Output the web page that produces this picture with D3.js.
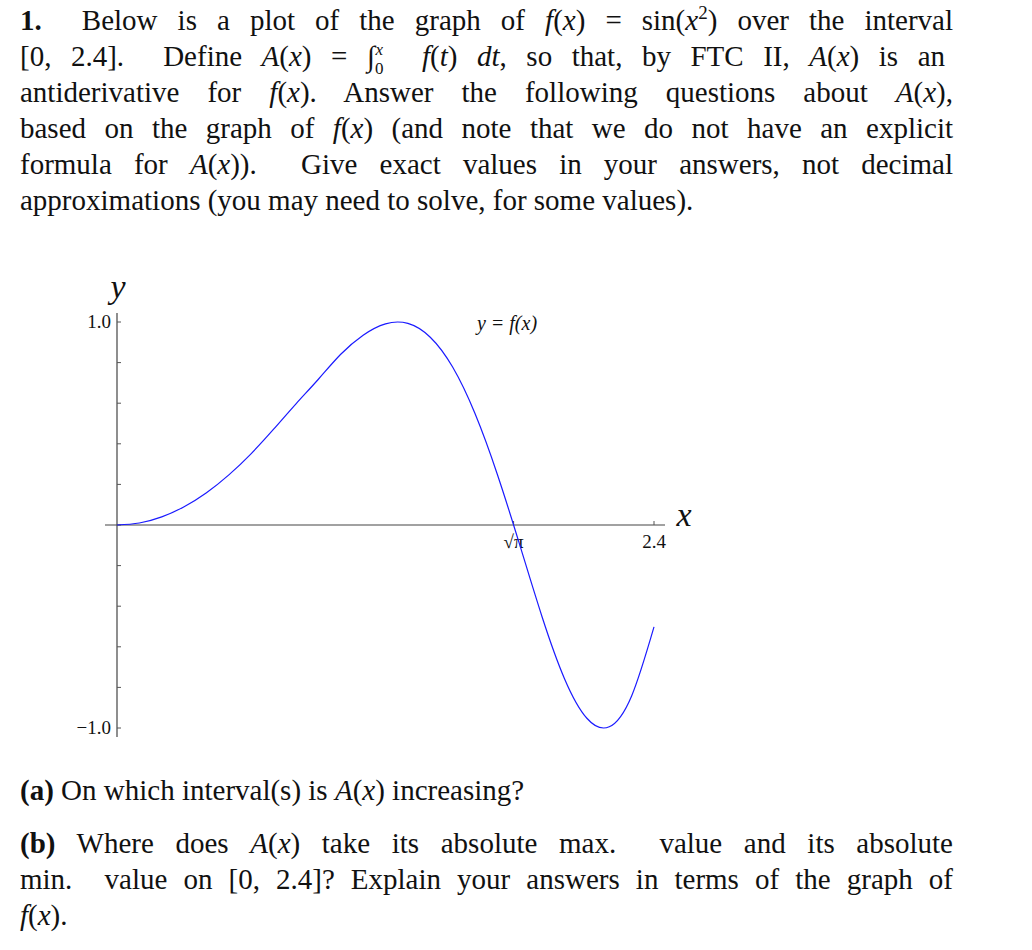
<!DOCTYPE html>
<html><head><meta charset="utf-8">
<script src="https://cdn.jsdelivr.net/npm/d3@7"></script>
<style>body{margin:0;background:#fff}svg{display:block}text{font-family:"Liberation Serif","DejaVu Serif",serif;fill:#111}</style>
</head><body><svg id="c" width="1032" height="950"></svg>
<script>
const xs=[0,0.1,0.2,0.3,0.4,0.5,0.6,0.7,0.8,0.9,1.0,1.1,1.2,1.3,1.4,1.5,1.6,1.7,1.8,1.9,2.0,2.1,2.2,2.3,2.4];
const ys=[0,0.01,0.04,0.09,0.159,0.247,0.352,0.472,0.597,0.718,0.841,0.935,0.991,0.993,0.925,0.778,0.549,0.249,-0.098,-0.453,-0.757,-0.952,-0.994,-0.842,-0.502];
const yTicks=[-1,-0.8,-0.6,-0.4,-0.2,0,0.2,0.4,0.6,0.8,1];
const xTicks=[{v:Math.sqrt(Math.PI),l:"√π"},{v:2.4,l:"2.4"}];
const svg=d3.select("#c");
const x=d3.scaleLinear().domain([0,2.4]).range([117,654]);
const y=d3.scaleLinear().domain([-1,1]).range([728,322]);
const lines=[
 [["b","1."],["n","  Below is a plot of the graph of "],["i","f"],["n","("],["i","x"],["n",") = sin("],["i","x"],["sup","2"],["n",") over the interval"]],
 [["n","[0, 2.4].  Define "],["i","A"],["n","("],["i","x"],["n",") = ∫"],["sub","0"],["sup2","x"],["n","  "],["i","f"],["n","("],["i","t"],["n",") "],["i","dt"],["n",", so that, by FTC II, "],["i","A"],["n","("],["i","x"],["n",") is an"]],
 [["n","antiderivative for "],["i","f"],["n","("],["i","x"],["n","). Answer the following questions about "],["i","A"],["n","("],["i","x"],["n","),"]],
 [["n","based on the graph of "],["i","f"],["n","("],["i","x"],["n",") (and note that we do not have an explicit"]],
 [["n","formula for "],["i","A"],["n","("],["i","x"],["n",")).  Give exact values in your answers, not decimal"]],
 [["n","approximations (you may need to solve, for some values)."]]
];
const lines2=[
 {y:800,j:false,p:[["b","(a)"],["n"," On which interval(s) is "],["i","A"],["n","("],["i","x"],["n",") increasing?"]]},
 {y:853,j:true,p:[["b","(b)"],["n"," Where does "],["i","A"],["n","("],["i","x"],["n",") take its absolute max.  value and its absolute"]]},
 {y:889,j:true,p:[["n","min.  value on [0, 2.4]? Explain your answers in terms of the graph of"]]},
 {y:925,j:false,p:[["i","f"],["n","("],["i","x"],["n",")."]]}
];
function draw(parts,by,just){
 const t=svg.append("text").attr("x",20).attr("y",by).attr("font-size",29).attr("xml:space","preserve");
 let prev=null;
 parts.forEach(([k,s])=>{
  const ts=t.append("tspan").text(s);
  if(k==="i")ts.attr("font-style","italic");
  if(k==="b")ts.attr("font-weight","bold");
  if(k==="sup")ts.attr("font-size",19).attr("dy",-11);
  if(k==="sub")ts.attr("font-size",17).attr("dy",8);
  if(k==="sup2")ts.attr("font-size",17).attr("font-style","italic").attr("dy",-19).attr("dx",-8);
  if(prev==="sup"||prev==="sup2")ts.attr("dy",11);
  prev=k;
 });
 if(just){
  const w=t.node().getComputedTextLength();
  const n=parts.reduce((a,p)=>a+(p[1].match(/ /g)||[]).length,0);
  if(n>0)t.attr("word-spacing",(933-w)/n);
 }
}
lines.forEach((l,i)=>draw(l,30+36*i,i<5));
lines2.forEach(l=>draw(l.p,l.y,l.j));
const g=svg.append("g");
g.append("line").attr("x1",x(0)).attr("x2",x(0)).attr("y1",313).attr("y2",737).attr("stroke","#444").attr("stroke-width",1.2);
g.append("line").attr("x1",105).attr("x2",665).attr("y1",y(0)).attr("y2",y(0)).attr("stroke","#444").attr("stroke-width",1.2);
g.selectAll(".yt").data(yTicks).join("line").attr("x1",x(0)).attr("x2",x(0)+4).attr("y1",d=>y(d)).attr("y2",d=>y(d)).attr("stroke","#555");
g.selectAll(".xt").data(xTicks).join("line").attr("x1",d=>x(d.v)).attr("x2",d=>x(d.v)).attr("y1",y(0)).attr("y2",y(0)-4).attr("stroke","#555");
g.selectAll(".yl").data([1,-1]).join("text").attr("x",x(0)-6).attr("y",d=>y(d)+6).attr("text-anchor","end").attr("font-size",19).text(d=>d===1?"1.0":"−1.0");
g.selectAll(".xl").data(xTicks).join("text").attr("x",d=>x(d.v)).attr("y",y(0)+23).attr("text-anchor","middle").attr("font-size",19).text(d=>d.l);
g.append("text").attr("x",118).attr("y",298).attr("text-anchor","middle").attr("font-size",34).attr("font-style","italic").text("y");
g.append("text").attr("x",684).attr("y",526).attr("text-anchor","middle").attr("font-size",34).attr("font-style","italic").text("x");
g.append("text").attr("x",507).attr("y",330).attr("text-anchor","middle").attr("font-size",20).attr("font-style","italic").text("y = f(x)");
const line=d3.line().x((d,i)=>x(xs[i])).y(d=>y(d)).curve(d3.curveNatural);
g.append("path").datum(ys).attr("d",line).attr("fill","none").attr("stroke","#1a1aff").attr("stroke-width",1.2);
</script></body></html>
